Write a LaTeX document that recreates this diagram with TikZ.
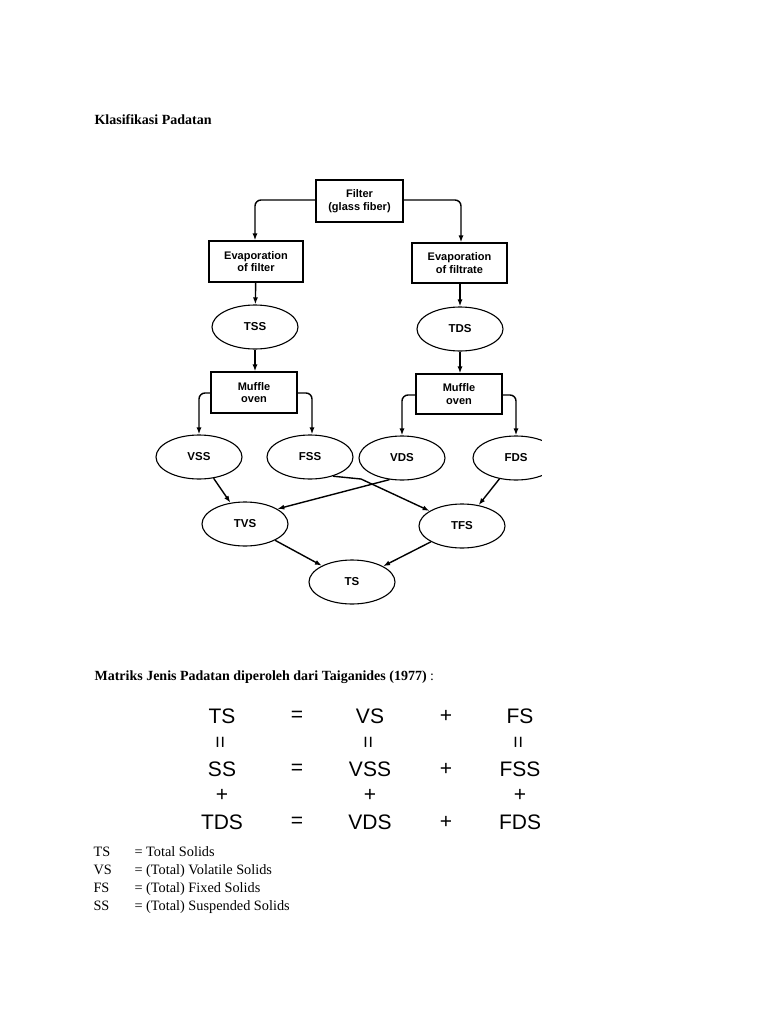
\documentclass[tikz,border=0pt]{standalone}
\usepackage{fontspec}
\setmainfont{Liberation Serif}
\newfontfamily\mysans{Liberation Sans}
\usetikzlibrary{shapes.geometric,arrows.meta}
\begin{document}
\begin{tikzpicture}[x=1pt,y=-1pt,
 box/.style={draw,line width=1.1pt,font=\mysans\bfseries\fontsize{11}{12.5}\selectfont,align=center,inner sep=0pt},
 ell/.style={draw,ellipse,line width=1.1pt,minimum width=86pt,minimum height=44pt,inner sep=0pt,font=\mysans\bfseries\fontsize{11.5}{12}\selectfont},
 arr/.style={line width=1.4pt,-{Latex[length=7pt,width=5pt]},rounded corners=6pt},
 mx/.style={font=\mysans\fontsize{21}{22}\selectfont},
 lg/.style={font=\fontsize{14.3}{15}\selectfont,anchor=base west}]
\useasboundingbox (0,0) rectangle (768,1024);
\node[font=\bfseries\fontsize{14}{16}\selectfont,anchor=base west] (h1) at (91,125) {Klasifikasi Padatan};
% diagram
\node[box,minimum width=87pt,minimum height=42pt] (f) at (359.5,201) {Filter\\(glass fiber)};
\node[box,minimum width=94pt,minimum height=41pt] (ef) at (256,261.5) {Evaporation\\of filter};
\node[box,minimum width=95pt,minimum height=40pt] (et) at (459.5,263) {Evaporation\\of filtrate};
\node[ell] (tss) at (255,327) {TSS};
\node[ell] (tds) at (460,329) {TDS};
\node[box,minimum width=86pt,minimum height=41pt] (m1) at (254,392.5) {Muffle\\oven};
\node[box,minimum width=86pt,minimum height=40pt] (m2) at (459,394) {Muffle\\oven};
\node[ell] (vss) at (199,457) {VSS};
\node[ell] (fss) at (310,457) {FSS};
\node[ell] (vds) at (402,458) {VDS};
\node[ell] (fds) at (516,458) {FDS};
\node[ell] (tvs) at (245,524) {TVS};
\node[ell] (tfs) at (462,526) {TFS};
\node[ell] (ts) at (352,582) {TS};
\fill[white] (542,420) rectangle (570,500);
\draw[arr] (f.west|-0,200) -| (ef.north-|255,0);
\draw[arr] (f.east|-0,200) -| (et.north-|461,0);
\draw[arr] (ef) -- (tss);
\draw[arr] (et.south-|460,0) -- (tds);
\draw[arr] (tss) -- (m1.north-|255,0);
\draw[arr] (tds) -- (m2.north-|460,0);
\draw[arr] (m1.west|-0,393) -| (vss.north);
\draw[arr] (m1.east|-0,393) -| (fss.north-|312,0);
\draw[arr] (m2.west|-0,395) -| (vds.north);
\draw[arr] (m2.east|-0,395) -| (fds.north);
\draw[arr,rounded corners=0pt] (vss) -- (tvs);
\draw[arr,rounded corners=0pt] (fss.-40) -- (361,479) -- (tfs);
\draw[arr,rounded corners=0pt] (vds.-120) -- (tvs.25);
\draw[arr,rounded corners=0pt] (fds) -- (tfs);
\draw[arr,rounded corners=0pt] (tvs) -- (ts);
\draw[arr,rounded corners=0pt] (tfs) -- (ts);
% matrix
\node[anchor=base west,font=\bfseries\fontsize{14}{16}\selectfont] (h2) at (91,680) {Matriks Jenis Padatan diperoleh dari Taiganides (1977)\mdseries\ :};
\foreach \r/\a/\b [count=\i] in {TS/VS/FS,{\rotatebox{90}{=}}/{\rotatebox{90}{=}}/{\rotatebox{90}{=}},SS/VSS/FSS,+/+/+,TDS/VDS/FDS}{
 \pgfmathsetmacro\yy{716+26.5*(\i-1)}
 \node[mx] (x\i a) at (222,\yy) {\r};
 \node[mx] (x\i b) at (370,\yy) {\a};
 \node[mx] (x\i c) at (520,\yy) {\b};
}
\node[mx] (e1) at (297,716) {=};
\node[mx] (p1) at (446,716) {+};
\node[mx] (e2) at (297,769) {=};
\node[mx] (p2) at (446,769) {+};
\node[mx] (e3) at (297,822) {=};
\node[mx] (p3) at (446,822) {+};
\foreach \k/\t [count=\i] in {TS/Total Solids,VS/(Total) Volatile Solids,FS/(Total) Fixed Solids,SS/(Total) Suspended Solids}{
 \node[lg] (l\i) at (90,856+18*\i-18) {\k};
 \node[lg] (r\i) at (131,856+18*\i-18) {= \t};
}
\end{tikzpicture}
\end{document}
